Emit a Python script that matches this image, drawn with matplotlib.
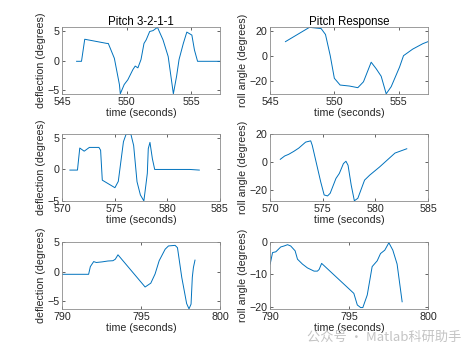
import matplotlib
matplotlib.use('Agg')
import matplotlib.pyplot as plt

plt.rcParams['font.family'] = ['Liberation Sans', 'DejaVu Sans']

# pitch 3-2-1-1, first run
t1 = [546.12, 546.5, 546.75, 548.46, 548.57, 549.04, 549.43, 549.5, 549.8, 550.08,
      550.47, 550.65, 550.86, 551.1, 551.33, 551.5, 551.77, 552.03, 552.37, 552.8,
      553.2, 553.6, 553.85, 554.04, 554.37, 554.64, 555.03, 555.23, 555.47, 557.2]
d1 = [-0.1, -0.1, 3.6, 2.9, 2.9, 0.4, -4.0, -5.55, -4.0, -3.2,
      -1.5, -0.9, -1.2, 0.2, 2.9, 3.5, 4.9, 5.05, 5.6, 3.5,
      0.7, -5.55, -2.6, 0.2, 2.9, 4.8, 4.3, 1.8, -0.1, -0.1]
r1t = [546.19, 548.06, 548.97, 549.31, 549.68, 550.0, 550.45, 551.18, 551.83, 552.27,
       552.87, 553.26, 553.65, 554.04, 554.43, 555.08, 555.39, 556.1, 556.9, 557.3]
r1 = [11.2, 22.6, 21.6, 16.9, 0.0, -18.0, -23.4, -24.2, -25.5, -20.8,
      -5.2, -10.4, -16.4, -30.4, -24.7, -9.1, 0.0, 5.2, 9.6, 11.2]

# second run
t2 = [570.74, 571.46, 571.68, 572.1, 572.59, 573.07, 573.5, 573.66, 573.82, 575.02,
      575.34, 575.83, 576.08, 576.54, 576.8, 577.12, 577.44, 577.77, 577.96, 578.1,
      578.19, 578.35, 578.58, 578.8, 582.14, 583.04]
d2 = [-0.1, -0.1, 3.4, 2.9, 3.5, 3.5, 3.5, 3.05, -1.7, -2.9,
      -1.9, 4.4, 5.58, 5.58, 3.8, -1.95, -4.05, -5.0, -2.5, -0.6,
      3.3, 4.3, 1.7, 0.0, 0.0, -0.1]
r2t = [570.96, 571.38, 571.76, 572.24, 572.72, 573.37, 573.85, 574.0, 574.8, 575.13,
       575.45, 575.7, 576.25, 576.57, 576.96, 577.2, 577.4, 577.7, 578.0, 578.33,
       578.97, 579.46, 580.4, 581.86, 582.98]
r2 = [1.9, 4.3, 5.5, 7.6, 10.0, 14.3, 15.2, 11.9, -14.3, -23.8,
      -24.5, -22.6, -11.9, -8.3, -1.2, 0.5, -2.4, -16.7, -28.0, -26.2,
      -13.1, -9.5, -3.6, 6.4, 9.5]

# third run
t3 = [790.0, 791.68, 791.79, 792.0, 792.17, 792.53, 792.9, 793.22, 793.37, 793.54,
      795.26, 795.62, 795.89, 796.15, 796.53, 796.74, 797.16, 797.31, 797.58, 797.89,
      798.04, 798.17, 798.25, 798.32, 798.42]
d3 = [-0.45, -0.45, 0.85, 1.7, 1.55, 1.65, 1.8, 1.85, 2.1, 2.85,
      -2.6, -1.95, -0.4, 1.85, 3.8, 4.35, 4.45, 4.05, -0.95, -5.4,
      -6.3, -5.5, -0.95, 0.7, 1.95]
r3t = [790.0, 790.15, 790.36, 790.67, 790.88, 791.1, 791.3, 791.58, 791.73, 792.04,
       792.36, 792.78, 792.99, 793.1, 793.26, 795.3, 795.52, 795.73, 795.87, 796.15,
       796.46, 796.78, 796.99, 797.26, 797.52, 797.77, 798.04, 798.36]
r3 = [-6.8, -3.25, -3.0, -1.5, -1.2, -0.8, -1.2, -2.7, -5.3, -6.8,
      -8.0, -9.0, -9.0, -8.5, -6.6, -15.9, -19.5, -20.3, -20.3, -16.4,
      -7.6, -5.8, -3.55, -2.5, -0.2, -2.5, -6.8, -18.5]

panels = [
    (t1, d1, (545, 557.2), (-5.6, 5.6), [545, 550, 555], [-5, 0, 5], 'deflection (degrees)', 'Pitch 3-2-1-1'),
    (r1t, r1, (545, 557.3), (-30.6, 22.6), [545, 550, 555], [-20, 0, 20], 'roll angle (degrees)', 'Pitch Response'),
    (t2, d2, (570, 585), (-5.0, 5.6), [570, 575, 580, 585], [-5, 0, 5], 'deflection (degrees)', None),
    (r2t, r2, (570, 585), (-28.1, 20), [570, 575, 580, 585], [-20, 0, 20], 'roll angle (degrees)', None),
    (t3, d3, (790, 800), (-6.3, 5.0), [790, 795, 800], [-5, 0, 5], 'deflection (degrees)', None),
    (r3t, r3, (790, 800), (-20.7, 0), [790, 795, 800], [-20, -10, 0], 'roll angle (degrees)', None),
]

lefts = [0.131, 0.570]
bottoms = [0.735, 0.434, 0.130]
w, h = 0.333, 0.188

fig = plt.figure(figsize=(4.74, 3.55), dpi=100)
for i, (x, y, xl, yl, xt, yt, ylab, title) in enumerate(panels):
    ax = fig.add_axes([lefts[i % 2], bottoms[i // 2], w, h])
    ax.plot(x, y, color='#0072BD', lw=0.7)
    ax.set_xlim(xl)
    ax.set_ylim(yl)
    ax.set_xticks(xt)
    ax.set_yticks(yt)
    ax.tick_params(direction='in', length=2.5, width=0.5, labelsize=7.7,
                   top=True, right=True, colors='#262626', pad=2)
    for s in ax.spines.values():
        s.set_linewidth(0.6)
        s.set_color('#8c8c8c')
    ax.set_xlabel('time (seconds)', fontsize=7.7, color='#262626', labelpad=1)
    ax.set_ylabel(ylab, fontsize=7.7, color='#262626', labelpad=1)
    if title:
        ax.set_title(title, fontsize=8.3, color='black', pad=2)

# watermark
fig.text(0.648, 0.05, '公众号 · Matlab科研助手', fontsize=9.5, color='#c4c4c4',
         family=['Noto Sans CJK SC', 'DejaVu Sans'], va='center')

fig.savefig('out.png', dpi=100)
